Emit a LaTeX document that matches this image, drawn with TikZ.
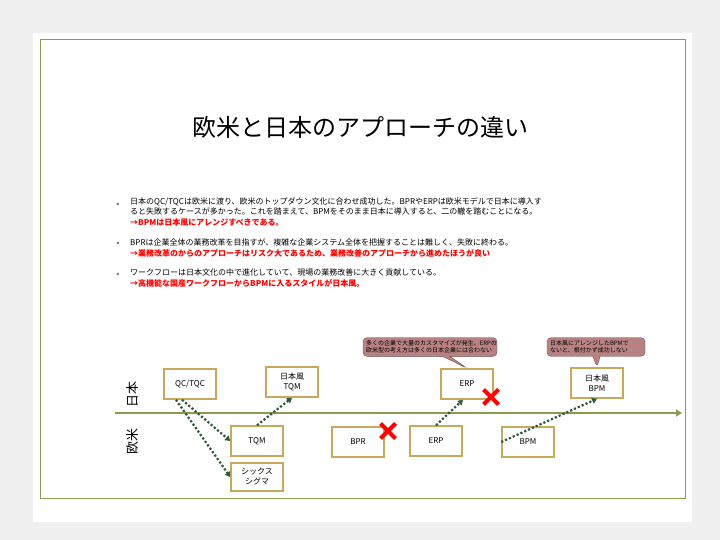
\documentclass[tikz,border=0pt]{standalone}
\usepackage{fontspec}
\newfontfamily\cjk{Noto Sans CJK JP}
\usetikzlibrary{arrows.meta,shapes.callouts,shapes.misc}
\definecolor{olive}{HTML}{8A9A4E}
\definecolor{boxb}{HTML}{C9A85C}
\definecolor{dg}{HTML}{2F5A3A}
\definecolor{calf}{HTML}{B98282}
\tikzset{
 bx/.style={draw=boxb,line width=1.5pt,fill=white,minimum width=52pt,minimum height=30pt,align=center,font=\cjk\fontsize{8}{10}\selectfont,inner sep=1pt},
 dar/.style={dg,line width=2.2pt,dotted,-{Triangle[length=5pt,width=6pt]}},
 cal/.style={rectangle callout,rounded corners=4pt,draw=calf!60!black,fill=calf,text width=#1,align=left,font=\cjk\fontsize{6}{7}\selectfont,inner sep=3pt},
 xm/.style={cross out,draw=red,line width=4pt,minimum size=11pt,inner sep=0pt},
 bt/.style={anchor=north west,align=left,text width=500pt,font=\cjk\fontsize{8}{10.5}\selectfont,inner sep=0pt},
 vl/.style={font=\cjk\fontsize{13}{13}\selectfont,rotate=90}
}
\begin{document}
\begin{tikzpicture}[x=1pt,y=-1pt]
\fill[gray!12] (0,0) rectangle (720,540);
\useasboundingbox (0,0) rectangle (720,540);
\fill[white] (33,33) rectangle (692,522);
\draw[olive,line width=1pt] (40,40) rectangle (685,498);
\node[font=\cjk\fontsize{24}{28}\selectfont] (title) at (360,127) {欧米と日本のアプローチの違い};
\foreach \y in {205,244,275}{\node[font=\fontsize{9}{9}\selectfont,gray] at (118,\y) {•};}
\node[bt] (b1) at (130,197) {日本のQC/TQCは欧米に渡り、欧米のトップダウン文化に合わせ成功した。BPRやERPは欧米モデルで日本に導入す\\ると失敗するケースが多かった。これを踏まえて、BPMをそのまま日本に導入すると、二の轍を踏むことになる。\\{\color{red}\bfseries →BPMは日本風にアレンジすべきである。}};
\node[bt] (b2) at (130,239) {BPRは企業全体の業務改革を目指すが、複雑な企業システム全体を把握することは難しく、失敗に終わる。\\{\color{red}\bfseries →業務改革のからのアプローチはリスク大であるため、業務改善のアプローチから進めたほうが良い}};
\node[bt] (b3) at (130,269) {ワークフローは日本文化の中で進化していて、現場の業務改善に大きく貢献している。\\{\color{red}\bfseries →高機能な国産ワークフローからBPMに入るスタイルが日本風。}};
\node[vl] (jp) at (133,394) {日本};
\node[vl] (eu) at (133,441) {欧米};
\coordinate (ls) at (115,413); \coordinate (le) at (682,413);
\draw[olive,line width=2pt,-{Triangle[length=6pt,width=7pt]}] (ls) -- (le);
\node[bx] (qc) at (190,384) {QC/TQC};
\node[bx] (jtqm) at (292,382) {日本風\\TQM};
\node[bx] (erpu) at (467,384) {ERP};
\node[bx] (jbpm) at (597,383) {日本風\\BPM};
\node[bx] (tqm) at (257,441) {TQM};
\node[bx] (bpr) at (358,442) {BPR};
\node[bx] (erpl) at (436,441) {ERP};
\node[bx] (bpm) at (528,442) {BPM};
\node[bx,minimum height=28pt] (six) at (257,477) {シックス\\シグマ};
\node[cal=128pt,callout absolute pointer={(erpu.north)}] (c1) at (430,347) {多くの企業で大量のカスタマイズが発生、ERPの\\欧米型の考え方は多くの日本企業には合わない};
\node[cal=92pt,callout absolute pointer={(jbpm.north)}] (c2) at (596,347) {日本風にアレンジしたBPMで\\ないと、根付かず成功しない};
\node[xm] (x1) at (491,397) {};
\node[xm] (x2) at (388,431) {};
\draw[dar] ([xshift=-8pt]qc.south) -- (tqm.west);
\draw[dar] ([xshift=-14pt]qc.south) -- (six.west);
\draw[dar] (tqm.north) -- (jtqm.south);
\draw[dar] (erpl.north) -- ([xshift=-4pt]erpu.south);
\draw[dar] (bpm.west) -- (jbpm.south);
\end{tikzpicture}
\end{document}
